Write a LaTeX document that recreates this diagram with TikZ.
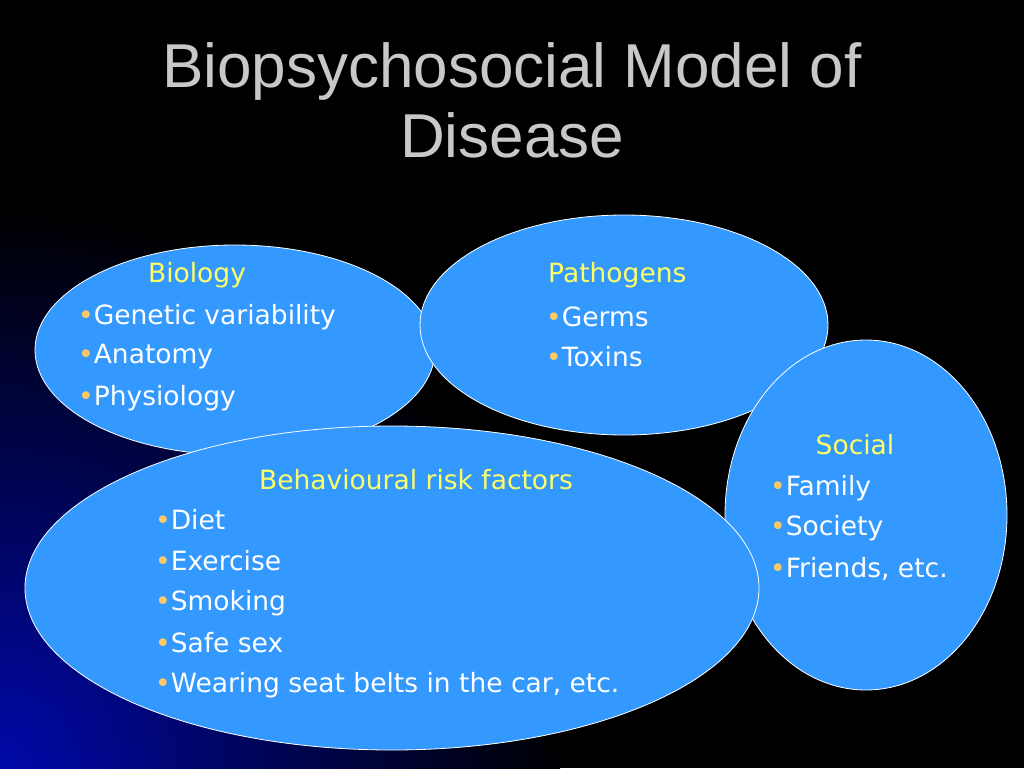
\documentclass[tikz,border=0pt]{standalone}
\usepackage{fontspec}
\setmainfont{Liberation Sans}
\newfontfamily\bodyfont{DejaVu Sans}
\usetikzlibrary{shapes.geometric}
\definecolor{bg}{HTML}{000000}
\definecolor{deep}{HTML}{0008A8}
\definecolor{blob}{HTML}{3399FF}
\definecolor{head}{HTML}{FFFF66}
\definecolor{dotc}{HTML}{FFC966}
\definecolor{titlec}{HTML}{C8C8C8}
\newcommand{\bul}{{\color{dotc}\textbullet}}
\tikzset{
  blobs/.style={ellipse, draw=white, line width=0.8pt, fill=blob, inner sep=0pt},
  lab/.style={text=white, font=\bodyfont\fontsize{26.5}{32}\selectfont, anchor=west, inner sep=0pt},
  hd/.style={text=head, font=\bodyfont\fontsize{26.5}{32}\selectfont, inner sep=0pt},
  ttl/.style={text=titlec, font=\fontsize{62}{70}\selectfont, align=center, inner sep=0pt},
}
\begin{document}
\begin{tikzpicture}[x=1pt,y=-1pt]
  \useasboundingbox (0,0) rectangle (1024,768);
  \fill[bg] (0,0) rectangle (1024,768);
  \begin{scope}
    \clip (0,0) rectangle (1024,768);
    \shade[inner color=deep, outer color=bg] (0,768) circle (560);
  \end{scope}

  \node[ttl] (title) at (512,100) {Biopsychosocial Model of\\Disease};

  \node[blobs, minimum width=400, minimum height=210] (bio) at (235,350) {};
  \node[blobs, minimum width=408, minimum height=220] (path) at (624,325) {};
  \node[blobs, minimum width=282, minimum height=350] (soc) at (866,515) {};
  \node[blobs, minimum width=734, minimum height=324] (beh) at (392,588) {};

  \node[hd] (biohd) at (197,275) {Biology};
  \node[lab] (bio1) at (78,317) {\bul Genetic variability};
  \node[lab] (bio2) at (78,357) {\bul Anatomy};
  \node[lab] (bio3) at (78,398) {\bul Physiology};

  \node[hd, anchor=west] (pathhd) at (548,275) {Pathogens};
  \node[lab] (path1) at (546,317) {\bul Germs};
  \node[lab] (path2) at (546,357) {\bul Toxins};

  \node[hd] (sochd) at (855,445) {Social};
  \node[lab] (soc1) at (770,488) {\bul Family};
  \node[lab] (soc2) at (770,528) {\bul Society};
  \node[lab] (soc3) at (770,569) {\bul Friends, etc.};

  \node[hd] (behhd) at (416,480) {Behavioural risk factors};
  \node[lab] (beh1) at (155,520) {\bul Diet};
  \node[lab] (beh2) at (155,561) {\bul Exercise};
  \node[lab] (beh3) at (155,603) {\bul Smoking};
  \node[lab] (beh4) at (155,643) {\bul Safe sex};
  \node[lab] (beh5) at (155,685) {\bul Wearing seat belts in the car, etc.};
\end{tikzpicture}
\end{document}
